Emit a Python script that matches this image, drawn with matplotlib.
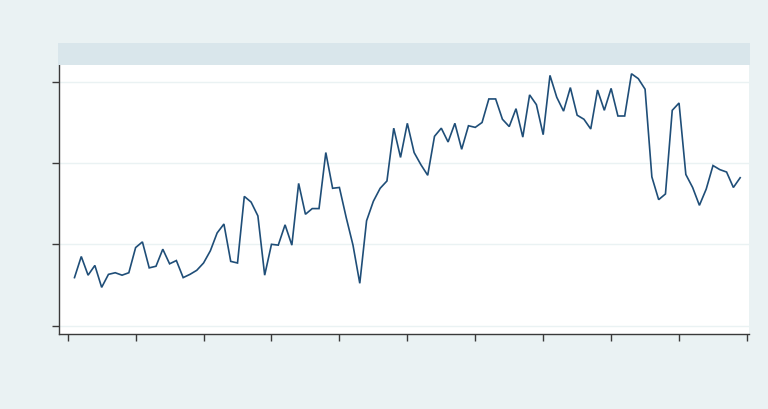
import matplotlib
matplotlib.use("Agg")
import matplotlib.pyplot as plt
from matplotlib.patches import Rectangle

periods = list(range(1, 100))
values = [0.59, 0.85, 0.62, 0.74, 0.47, 0.63, 0.65, 0.62, 0.65, 0.96,
          1.03, 0.71, 0.73, 0.94, 0.76, 0.80, 0.59, 0.63, 0.68, 0.77,
          0.92, 1.14, 1.25, 0.79, 0.77, 1.59, 1.52, 1.35, 0.62, 1.00,
          0.99, 1.24, 0.99, 1.75, 1.37, 1.44, 1.44, 2.13, 1.69, 1.70,
          1.33, 0.99, 0.52, 1.29, 1.53, 1.69, 1.78, 2.43, 2.07, 2.49,
          2.13, 1.98, 1.85, 2.33, 2.43, 2.26, 2.49, 2.17, 2.46, 2.44,
          2.50, 2.79, 2.79, 2.54, 2.45, 2.67, 2.32, 2.84, 2.72, 2.35,
          3.08, 2.81, 2.64, 2.93, 2.59, 2.54, 2.42, 2.90, 2.65, 2.92,
          2.58, 2.58, 3.10, 3.04, 2.91, 1.83, 1.55, 1.62, 2.65, 2.74,
          1.86, 1.70, 1.48, 1.68, 1.97, 1.92, 1.89, 1.70, 1.82]
xticks = list(range(0, 101, 10))
yticks = [0, 1, 2, 3]

W, H = 768, 410
fig = plt.figure(figsize=(W / 100, H / 100), dpi=100, facecolor="#eaf2f3")

# header band
fig.patches.append(Rectangle((58 / W, (H - 66) / H), (750 - 58) / W, 22 / H,
                             transform=fig.transFigure, facecolor="#d9e6eb",
                             edgecolor="none", zorder=0))

ax = fig.add_axes([59 / W, (H - 335.3) / H, (749 - 59) / W, (335.3 - 66) / H])
ax.set_facecolor("white")
ax.plot(periods, values, color="#1f4e78", lw=1.2, solid_joinstyle="miter")

ax.set_xlim(-1.28, 100.3)
ax.set_ylim(-0.108, 3.208)
ax.set_xticks(xticks)
ax.set_yticks(yticks)
ax.set_xticklabels([])
ax.set_yticklabels([])
ax.grid(axis="y", color="#eaf2f3", lw=1.0)
ax.set_axisbelow(True)
for s in ["top", "right"]:
    ax.spines[s].set_visible(False)
for s in ["left", "bottom"]:
    ax.spines[s].set_color("#3a3a3a")
    ax.spines[s].set_linewidth(1.0)
ax.tick_params(axis="both", direction="out", length=5, width=1, color="#3a3a3a")

fig.savefig("out.png", dpi=100, facecolor=fig.get_facecolor())
